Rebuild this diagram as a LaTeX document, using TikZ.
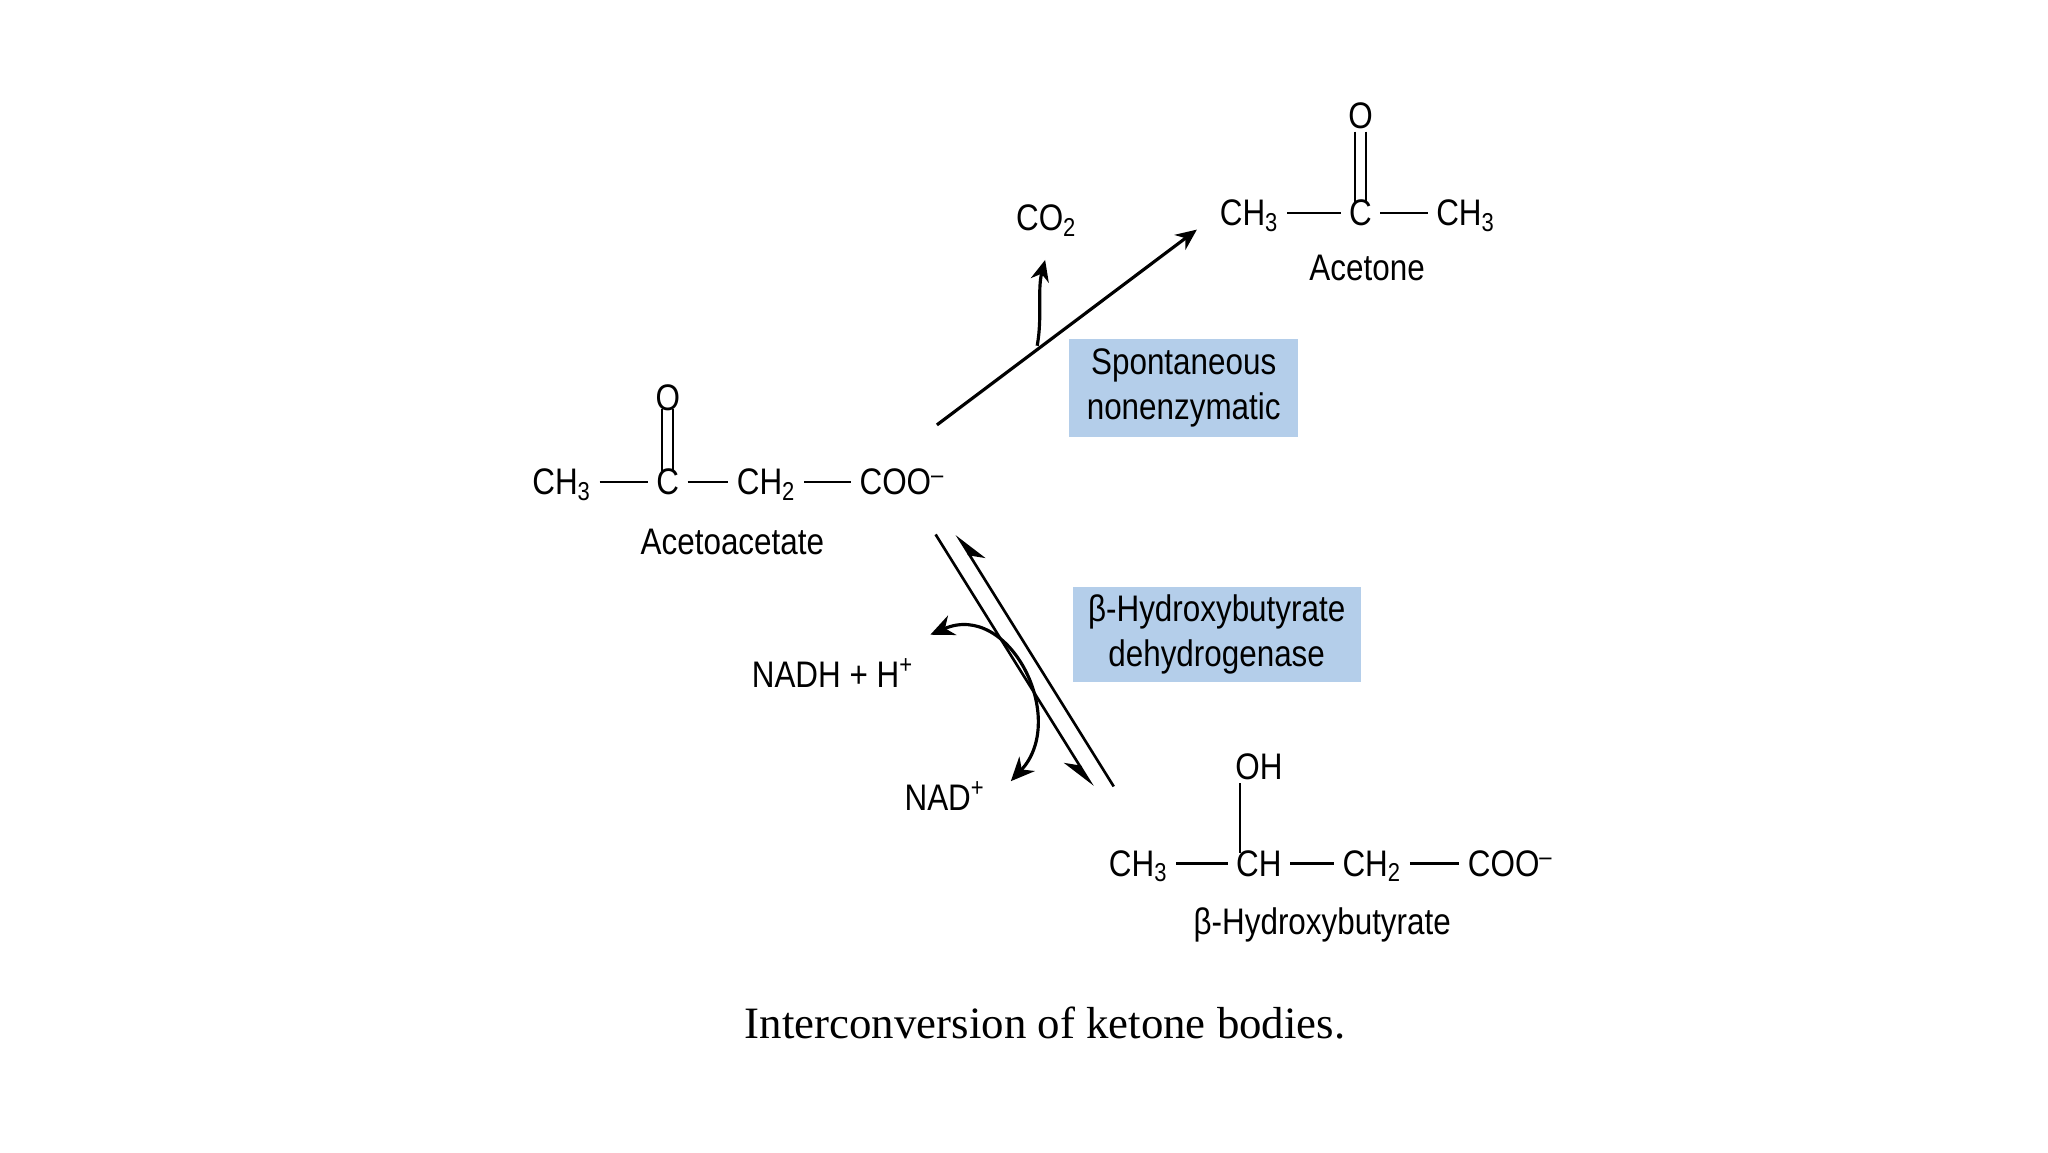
\documentclass[tikz,border=0pt]{standalone}
\usepackage{fontspec}
\setmainfont[FakeStretch=0.85]{Liberation Sans}
\newfontfamily\capfont{Liberation Serif}
\usetikzlibrary{arrows.meta}
\definecolor{boxblue}{RGB}{180,206,234}
\tikzset{
  atom/.style={font=\fontsize{14}{16}\selectfont, inner sep=0pt, anchor=base},
  lbl/.style={font=\fontsize{14}{16}\selectfont, inner sep=0pt},
  bond/.style={line width=0.8pt},
  enz/.style={fill=boxblue, font=\fontsize{14}{17}\selectfont, align=center, inner sep=0pt, minimum width=#1},
  rxn/.style={line width=1.2pt},
}
\newcommand{\bnd}[2]{\draw[bond] ([xshift=3pt,yshift=4.8pt]#1.base east) -- ([xshift=-3pt,yshift=4.8pt]#2.base west);}
\begin{document}
\begin{tikzpicture}[x=0.5pt,y=-0.5pt]
\useasboundingbox (0,0) rectangle (1552,873);
% Acetoacetate
\node[atom,anchor=base west] (a1) at (403,375) {CH\textsubscript{3}};
\node[atom] (a2) at (506,375) {C};
\node[atom,anchor=base west] (a3) at (558,375) {CH\textsubscript{2}};
\node[atom,anchor=base west] (a4) at (651,375) {COO\textsuperscript{\raisebox{-1pt}{--}}};
\node[atom] (ao) at (506,311) {O};
\bnd{a1}{a2}\bnd{a2}{a3}\bnd{a3}{a4}
\draw[bond] ([xshift=-2pt,yshift=1pt]ao.south) -- ([xshift=-2pt,yshift=-1pt]a2.north);
\draw[bond] ([xshift=2pt,yshift=1pt]ao.south) -- ([xshift=2pt,yshift=-1pt]a2.north);
\node[lbl] (alab) at (555,411) {Acetoacetate};
% Acetone
\node[atom,anchor=base west] (c1) at (924,171) {CH\textsubscript{3}};
\node[atom] (c2) at (1031,171) {C};
\node[atom,anchor=base west] (c3) at (1088,171) {CH\textsubscript{3}};
\node[atom] (co) at (1031,97) {O};
\bnd{c1}{c2}\bnd{c2}{c3}
\draw[bond] ([xshift=-2pt,yshift=-1pt]co.south) -- ([xshift=-2pt,yshift=-1pt]c2.north);
\draw[bond] ([xshift=2pt,yshift=-1pt]co.south) -- ([xshift=2pt,yshift=-1pt]c2.north);
\node[lbl] (clab) at (1036,203) {Acetone};
% beta-hydroxybutyrate
\node[atom,anchor=base west] (b1) at (840,664) {CH\textsubscript{3}};
\node[atom] (b2) at (954,664) {CH};
\node[atom,anchor=base west] (b3) at (1017,664) {CH\textsubscript{2}};
\node[atom,anchor=base west] (b4) at (1112,664) {COO\textsuperscript{\raisebox{-1pt}{--}}};
\node[atom] (bo) at (954,591) {OH};
\bnd{b1}{b2}\bnd{b2}{b3}\bnd{b3}{b4}
\draw[bond] ([xshift=-7pt,yshift=-1pt]bo.south) -- ([xshift=-7pt,yshift=-1pt]b2.north);
\node[lbl] (blab) at (1002,701) {β-Hydroxybutyrate};
% enzymes
\node[enz=87pt,minimum height=37pt] (e1) at (897,294) {Spontaneous\\nonenzymatic};
\node[enz=109pt,minimum height=36pt] (e2) at (922,481) {β-Hydroxybutyrate\\dehydrogenase};
% acetone reaction
\coordinate (s1) at (710,322);
\coordinate (t1) at (907,174);
\draw[rxn,-{Stealth[length=8pt,width=7pt]}] (s1) -- (t1);
\node[lbl] (co2) at (793,167) {CO\textsubscript{2}};
\coordinate (br) at (786,262);
\draw[line width=1.2pt,-{Stealth[length=8pt,width=7pt]}] (br) .. controls (790,240) and (786,220) .. (792,197);
% reversible reaction
\coordinate (r1) at (717,405);
\coordinate (r2) at (836,596);
\draw[line width=1pt,-{Stealth[harpoon,swap,length=12pt,width=9pt]}] ([xshift=4pt]r2) -- ([xshift=4pt]r1);
\draw[line width=1pt,-{Stealth[harpoon,swap,length=12pt,width=9pt]}] ([xshift=-4pt]r1) -- ([xshift=-4pt]r2);
% cofactors
\node[lbl] (nadh) at (631,510) {NADH + H\textsuperscript{+}};
\node[lbl] (nad) at (716,603) {NAD\textsuperscript{+}};
\coordinate (ca) at (705,481);
\coordinate (cb) at (766,592);
\draw[line width=1.2pt,{Stealth[length=9pt,width=8pt]}-{Stealth[length=9pt,width=8pt]}] (ca) .. controls (765,455) and (810,545) .. (cb);
% caption
\node[font=\capfont\fontsize{17}{20}\selectfont, inner sep=0pt] (cap) at (792,775) {Interconversion of ketone bodies.};
\end{tikzpicture}
\end{document}
